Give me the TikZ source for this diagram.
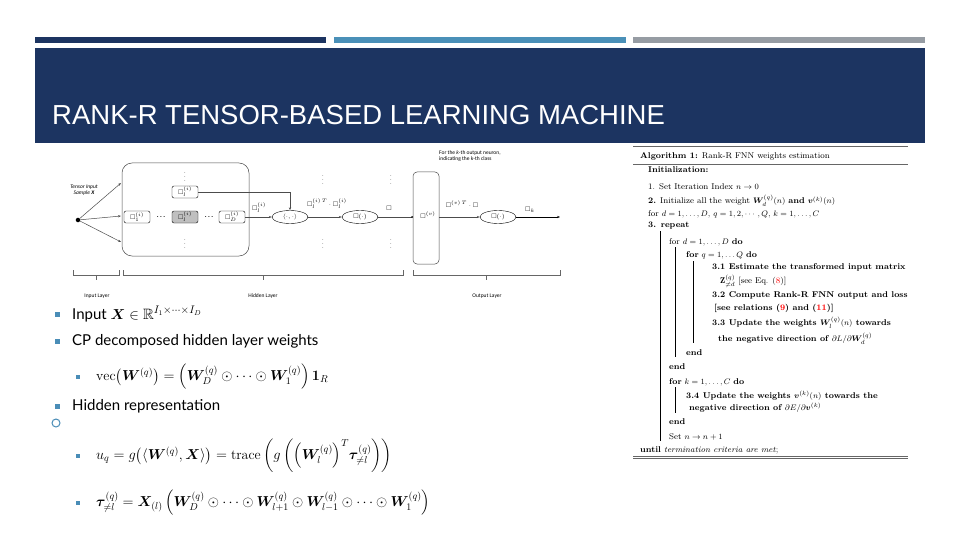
\documentclass[tikz,border=0pt]{standalone}
\usepackage{amsmath,amssymb,bm}
\usepackage{fontspec}
\newfontfamily\titlefont{Liberation Sans}
\newfontfamily\slidefont{Lato}
\newfontfamily\figfont{Carlito}
\usetikzlibrary{shapes.geometric,arrows.meta}
\definecolor{navy}{HTML}{1C3461}
\definecolor{barblue}{HTML}{4A90B8}
\definecolor{bargray}{HTML}{969CA3}
\definecolor{bullet}{HTML}{4A8DB7}
\tikzset{
 fig/.style={font=\figfont\fontsize{5.5}{6}\selectfont},
 wbox/.style={draw,rounded corners=2pt,minimum width=26pt,minimum height=12pt,inner sep=0pt,font=\fontsize{6}{6}\selectfont},
 ell/.style={draw,ellipse,minimum width=36pt,minimum height=13pt,inner sep=0pt,font=\fontsize{6}{6}\selectfont},
 ln/.style={draw=black!70,line width=0.5pt},
 vd/.style={inner sep=0pt,font=\fontsize{6}{6}\selectfont},
 bul/.style={fill=bullet,minimum size=5pt,inner sep=0pt},
 sbul/.style={fill=bullet,minimum size=3.5pt,inner sep=0pt},
 btxt/.style={anchor=west,font=\slidefont\fontsize{15}{16}\selectfont,inner sep=0pt},
 mtxt/.style={anchor=west,font=\fontsize{14}{15}\selectfont,inner sep=0pt},
 alg/.style={anchor=west,inner sep=0pt,font=\fontsize{8.4}{9}\selectfont},
 vbar/.style={line width=0.5pt},
}
\begin{document}
\begin{tikzpicture}[x=1pt,y=-1pt]
\useasboundingbox (0,0) rectangle (960,540);
\fill[white] (0,0) rectangle (960,540);
% top bars
\fill[navy] (35,37) rectangle (326,43);
\fill[barblue] (334,37) rectangle (626,43);
\fill[bargray] (633,37) rectangle (925,43);
\fill[navy] (35,48) rectangle (925,143);
\node[anchor=base west,text=white,font=\titlefont\fontsize{27.5}{28}\selectfont,inner sep=0pt] (title) at (52,125) {RANK-R TENSOR-BASED LEARNING MACHINE};

% ---------- network figure ----------
\node[fig,anchor=west,align=left,inner sep=0pt] (fortxt) at (439,156) {For the \textit{k}-th output neuron,\\indicating the \textit{k}-th class};
\node[fig,align=center,font=\figfont\itshape\fontsize{5.5}{6.5}\selectfont,inner sep=0pt] (tin) at (84,190) {Tensor Input\\Sample \textbf{X}};
\node[circle,fill=black,inner sep=1.6pt] (dot) at (78,220) {};
\draw[ln,rounded corners=10pt] (122,163) rectangle (249,256);
\coordinate (a1) at (121,183); \coordinate (a2) at (121,216); \coordinate (a3) at (121,242);
\draw[ln,-{Stealth[length=3pt]}] (dot) -- (a1);
\draw[ln,-{Stealth[length=3pt]}] (dot) -- (a2);
\draw[ln,-{Stealth[length=3pt]}] (dot) -- (a3);
\node[wbox] (wt) at (185,192) {$\square^{(i)}_{l}$};
\node[wbox] (w1) at (137,217) {$\square^{(i)}_{1}$};
\node[wbox,fill=black!25] (w2) at (185,217) {$\square^{(i)}_{l}$};
\node[wbox] (w3) at (232,217) {$\square^{(i)}_{D}$};
\node (d1) at (161,217) {$\cdot\!\cdot\!\cdot$};
\node (d2) at (209,217) {$\cdot\!\cdot\!\cdot$};
\node[vd] (v1) at (185,174) {$\vdots$};
\node[vd] (v2) at (185,241) {$\vdots$};
\node[ell] (e1) at (290,217) {$\langle\cdot,\cdot\rangle$};
\node[ell] (e2) at (360,217) {$\square(\cdot)$};
\draw[ln,-{Stealth[length=3pt]}] (w3) -- (e1);
\draw[ln,-{Stealth[length=3pt]}] (wt.east) -| (e1.north);
\draw[ln,-{Stealth[length=3pt]}] (e1) -- (e2);
\node[font=\fontsize{6}{6}\selectfont] (lw) at (259,208) {$\square^{(i)}_{l}$};
\node[font=\fontsize{6}{6}\selectfont] (lwt) at (327,204) {$\square^{(i)\,T}_{l}\cdot\square^{(i)}_{l}$};
\node[font=\fontsize{6}{6}\selectfont] (lq) at (389,208) {$\square$};
\foreach \xx/\nm in {323/p,391/q}{
 \node[vd] (\nm t) at (\xx,177) {$\vdots$};
 \node[vd] (\nm b) at (\xx,241) {$\vdots$};
}
\draw[ln,rounded corners=4pt] (413,172) rectangle (439,264);
\node[font=\fontsize{6}{6}\selectfont] (ov) at (428,215) {$\square^{(v)}$};
\coordinate (oin) at (412,217);
\draw[ln] (e2) -- (oin);
\fill (oin) circle (1pt);
\node[ell] (e3) at (498,217) {$\square(\cdot)$};
\draw[ln,-{Stealth[length=3pt]}] (439,217) -- (e3);
\coordinate (oend) at (560,217);
\draw[line width=0.6pt,-{Stealth[length=3pt]}] (e3) -- (oend);
\node[font=\fontsize{6}{6}\selectfont] (lv) at (462,204) {$\square^{(v)\,T}\cdot\square$};
\node[font=\fontsize{6}{6}\selectfont] (lk) at (530,210) {$\square_{k}$};
% brackets
\foreach \xa/\xb in {73/119,123/403,413/560}{
 \draw[black!60,line width=0.4pt] (\xa,270) -- (\xa,275) -- (\xb,275) -- (\xb,270);
 \draw[black!60,line width=0.4pt] ({(\xa+\xb)/2},275) -- ({(\xa+\xb)/2},280);
}
\node[fig] (il) at (97,296) {Input Layer};
\node[fig] (hl) at (263,296) {Hidden Layer};
\node[fig] (ol) at (487,296) {Output Layer};

% ---------- bullets ----------
\node[bul] (b1) at (57,314) {};
\node[btxt] (t1) at (72,314) {Input $\bm{X}\in\mathbb{R}^{I_1\times\cdots\times I_D}$};
\node[bul] (b2) at (57,341) {};
\node[btxt] (t2) at (72,341) {CP decomposed hidden layer weights};
\node[sbul] (b3) at (78,377) {};
\node[mtxt] (t3) at (96,377) {$\mathrm{vec}\big(\bm{W}^{(q)}\big)=\Big(\bm{W}^{(q)}_{D}\odot\cdots\odot\bm{W}^{(q)}_{1}\Big)\,\bm{1}_R$};
\node[bul] (b4) at (57,406) {};
\node[btxt] (t4) at (72,406) {Hidden representation};
\node[draw=bullet,circle,line width=1pt,minimum size=8pt,inner sep=0pt] (c5) at (56,423) {};
\node[sbul] (b6) at (78,456) {};
\node[mtxt] (t6) at (96,456) {$u_q=g\big(\langle\bm{W}^{(q)},\bm{X}\rangle\big)=\mathrm{trace}\left(g\left(\Big(\bm{W}^{(q)}_{l}\Big)^{T}\bm{\tau}^{(q)}_{\neq l}\right)\right)$};
\node[sbul] (b7) at (78,503) {};
\node[mtxt] (t7) at (96,503) {$\bm{\tau}^{(q)}_{\neq l}=\bm{X}_{(l)}\left(\bm{W}^{(q)}_{D}\odot\cdots\odot\bm{W}^{(q)}_{l+1}\odot\bm{W}^{(q)}_{l-1}\odot\cdots\odot\bm{W}^{(q)}_{1}\right)$};

% ---------- algorithm ----------
\draw[black!60,line width=1pt] (633,147) -- (908,147);
\draw[black!60,line width=0.5pt] (633,164) -- (908,164);
\draw[black!60,line width=0.5pt] (633,456) -- (908,456);
\draw[black!60,line width=0.5pt] (633,458.5) -- (908,458.5);
\node[alg] (h) at (640,156) {\textbf{Algorithm 1:} Rank-R FNN weights estimation};
\node[alg] (r1) at (648,170) {\textbf{Initialization:}};
\node[alg] (r2) at (648,187) {1. Set Iteration Index $n\to0$};
\node[alg] (r3) at (648,201) {\textbf{2.} Initialize all the weight $\bm{W}^{(q)}_{d}(n)$ \textbf{and} $\bm{v}^{(k)}(n)$};
\node[alg] (r4) at (648,214) {for $d=1,\ldots,D$, $q=1,2,\cdots,Q$, $k=1,\ldots,C$};
\node[alg] (r5) at (648,226) {\textbf{3. repeat}};
\node[alg] (r6) at (669,242) {for $d=1,\ldots,D$ \textbf{do}};
\node[alg] (r7) at (686,255) {\textbf{for} $q=1,\ldots Q$ \textbf{do}};
\node[alg] (r8) at (712,267) {\textbf{3.1 Estimate the transformed input matrix}};
\node[alg] (r9) at (720,281) {$\mathbf{Z}^{(q)}_{\neq d}$ [see Eq. (\textcolor{red}{8})]};
\node[alg] (r10) at (712,295) {\textbf{3.2 Compute Rank-R FNN output and loss}};
\node[alg] (r11) at (714,308) {\textbf{[see relations (\textcolor{red}{9}) and (\textcolor{red}{11})]}};
\node[alg] (r12) at (712,323) {\textbf{3.3 Update the weights $\bm{W}^{(q)}_{l}(n)$ towards}};
\node[alg] (r13) at (718,339) {\textbf{the negative direction of $\partial L/\partial\bm{W}^{(q)}_{d}$}};
\node[alg] (r14) at (686,353) {\textbf{end}};
\node[alg] (r15) at (669,367) {\textbf{end}};
\node[alg] (r16) at (669,382) {\textbf{for} $k=1,\ldots,C$ \textbf{do}};
\node[alg] (r17) at (686,396) {\textbf{3.4 Update the weights $\bm{v}^{(k)}(n)$ towards the}};
\node[alg] (r18) at (689,408) {\textbf{negative direction of $\partial E/\partial\bm{v}^{(k)}$}};
\node[alg] (r19) at (669,422) {\textbf{end}};
\node[alg] (r20) at (669,437) {Set $n\to n+1$};
\node[alg] (r21) at (640,450) {\textbf{until} \textit{termination criteria are met};};
\draw[vbar] (660,231) -- (660,441);
\draw[vbar] (675,247) -- (675,357);
\draw[vbar] (693,261) -- (693,343);
\draw[vbar] (675,387) -- (675,413);
\end{tikzpicture}
\end{document}
